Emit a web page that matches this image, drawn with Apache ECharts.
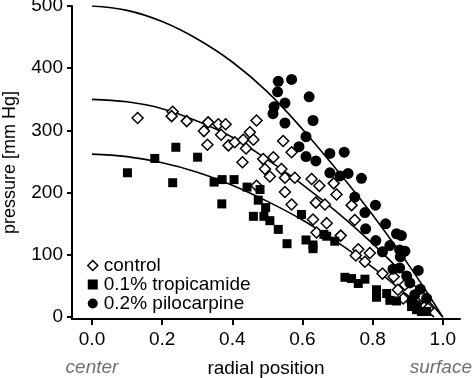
<!DOCTYPE html>
<html><head><meta charset="utf-8">
<script src="https://cdn.jsdelivr.net/npm/echarts@6/dist/echarts.min.js"></script>
<style>html,body{margin:0;padding:0;background:#fff}#c{width:474px;height:378px}</style>
</head><body><div id="c"></div>
<script>
const xTicks = [0, 0.2, 0.4, 0.6, 0.8, 1.0];
const yTicks = [0, 100, 200, 300, 400, 500];
const seriesNames = ['control', '0.1% tropicamide', '0.2% pilocarpine'];

const control = [[0.130,320],[0.230,330],[0.227,323],[0.270,315],[0.331,313],[0.319,299],[0.360,310],[0.381,310],[0.368,293],[0.329,277],[0.389,276],[0.407,281],[0.431,285],[0.450,297],[0.460,285],[0.469,316],[0.439,271],[0.429,249],[0.488,254],[0.517,257],[0.545,283],[0.569,265],[0.493,238],[0.507,226],[0.540,238],[0.550,224],[0.469,211],[0.578,224],[0.550,201],[0.569,181],[0.626,222],[0.648,211],[0.689,215],[0.697,197],[0.638,184],[0.664,181],[0.630,157],[0.669,151],[0.640,136],[0.709,131],[0.740,180],[0.749,156],[0.759,109],[0.752,99],[0.792,103],[0.778,89],[0.828,70],[0.860,65],[0.872,44],[0.892,52],[0.887,30],[0.914,23],[0.934,27],[0.941,33],[0.949,17],[0.920,19],[0.958,14]];

const tropicamide = [[0.101,232],[0.179,255],[0.239,273],[0.230,216],[0.301,257],[0.348,217],[0.371,221],[0.405,221],[0.370,182],[0.442,209],[0.479,205],[0.474,188],[0.495,176],[0.460,162],[0.490,162],[0.507,155],[0.531,141],[0.556,118],[0.597,165],[0.610,124],[0.630,116],[0.630,110],[0.661,133],[0.669,130],[0.692,122],[0.721,64],[0.740,62],[0.759,54],[0.778,61],[0.811,44],[0.811,32],[0.840,38],[0.849,27],[0.868,26],[0.911,25],[0.911,17],[0.925,12],[0.939,9],[0.954,9]];

const pilocarpine = [[0.531,379],[0.569,382],[0.529,362],[0.619,354],[0.550,344],[0.519,338],[0.516,327],[0.550,312],[0.630,316],[0.610,290],[0.590,274],[0.610,258],[0.638,251],[0.678,263],[0.719,265],[0.678,232],[0.707,227],[0.730,231],[0.768,223],[0.749,193],[0.808,180],[0.778,168],[0.780,142],[0.837,150],[0.809,123],[0.868,134],[0.882,131],[0.849,115],[0.828,105],[0.877,108],[0.892,106],[0.879,97],[0.858,77],[0.877,79],[0.930,75],[0.897,66],[0.906,55],[0.936,45],[0.920,36],[0.954,30],[0.925,19]];

const fitPilocarpine = [[0,500],[0.1,493],[0.2,475],[0.3,447],[0.4,410],[0.5,362],[0.6,302],[0.7,235],[0.8,164],[0.9,86],[0.95,44],[1.0,0]];
const fitControl = [[0,350],[0.1,346],[0.2,335],[0.3,315],[0.4,289],[0.5,253],[0.6,213],[0.7,168],[0.8,118],[0.9,62],[0.95,32],[1.0,0]];
const fitTropicamide = [[0,262],[0.1,258],[0.2,248],[0.3,233],[0.4,212],[0.5,186],[0.6,156],[0.7,120],[0.8,80],[0.9,35],[0.95,12],[0.975,0]];

const FONT = 'Liberation Sans, Arial, Helvetica, sans-serif';
const FS = 19;
const chart = echarts.init(document.getElementById('c'), null, {renderer: 'canvas'});

function fitLine(data) {
  return {type: 'line', data: data, smooth: 0.4, showSymbol: false, symbol: 'none',
    lineStyle: {color: '#000', width: 1.6}, z: 1, silent: true, animation: false};
}

chart.setOption({
  animation: false,
  backgroundColor: '#fff',
  grid: {left: 72, right: 14, top: 6, bottom: 59, containLabel: false, outerBoundsMode: 'none'},
  xAxis: {
    type: 'value', min: -0.057, max: 1.049,
    name: 'radial position', nameLocation: 'middle', nameGap: 40,
    nameTextStyle: {fontFamily: FONT, fontSize: FS, color: '#000'},
    axisLine: {show: true, onZero: false, lineStyle: {color: '#000', width: 2}},
    axisTick: {show: true, length: 6, lineStyle: {color: '#000', width: 2}, customValues: xTicks},
    axisLabel: {customValues: xTicks, margin: 11, fontFamily: FONT, fontSize: FS, color: '#000',
      formatter: v => v.toFixed(1)},
    splitLine: {show: false}
  },
  yAxis: {
    type: 'value', min: -3, max: 500,
    name: 'pressure [mm Hg]', nameLocation: 'middle', nameGap: 53,
    nameTextStyle: {fontFamily: FONT, fontSize: 18, color: '#000'},
    axisLine: {show: true, onZero: false, lineStyle: {color: '#000', width: 2}},
    axisTick: {show: true, length: 5, lineStyle: {color: '#000', width: 2}, customValues: yTicks},
    axisLabel: {customValues: yTicks, margin: 9, fontFamily: FONT, fontSize: FS, color: '#000'},
    splitLine: {show: false}
  },
  legend: {
    orient: 'vertical', left: 82, top: 251, itemWidth: 10, itemHeight: 10, itemGap: 0,
    textStyle: {fontFamily: FONT, fontSize: FS, color: '#000', padding: [0, 0, 0, 1]},
    data: [
      {name: seriesNames[0], icon: 'diamond', itemStyle: {color: '#fff', borderColor: '#000', borderWidth: 1.5}},
      {name: seriesNames[1], icon: 'rect', itemStyle: {color: '#000', borderWidth: 0}},
      {name: seriesNames[2], icon: 'circle', itemStyle: {color: '#000', borderWidth: 0}}
    ],
    selectedMode: false
  },
  series: [
    fitLine(fitPilocarpine), fitLine(fitControl), fitLine(fitTropicamide),
    {name: seriesNames[0], type: 'scatter', data: control, symbol: 'diamond', symbolSize: 11,
      itemStyle: {color: '#fff', borderColor: '#000', borderWidth: 1.5, opacity: 1}, z: 3},
    {name: seriesNames[1], type: 'scatter', data: tropicamide, symbol: 'rect', symbolSize: 9,
      itemStyle: {color: '#000', opacity: 1}, z: 4},
    {name: seriesNames[2], type: 'scatter', data: pilocarpine, symbol: 'circle', symbolSize: 11,
      itemStyle: {color: '#000', opacity: 1}, z: 5}
  ]
});

const p0 = chart.convertToPixel({gridIndex: 0}, [0, 0]);
const p1 = chart.convertToPixel({gridIndex: 0}, [1, 0]);
chart.setOption({
  graphic: [
    {type: 'text', x: p0[0], y: 368, silent: true,
      style: {text: 'center', fontFamily: FONT, fontSize: FS, fontStyle: 'italic', fill: '#707070',
        align: 'center', verticalAlign: 'middle'}},
    {type: 'text', x: p1[0] - 2, y: 368, silent: true,
      style: {text: 'surface', fontFamily: FONT, fontSize: FS, fontStyle: 'italic', fill: '#707070',
        align: 'center', verticalAlign: 'middle'}}
  ]
});
</script>
</body></html>
